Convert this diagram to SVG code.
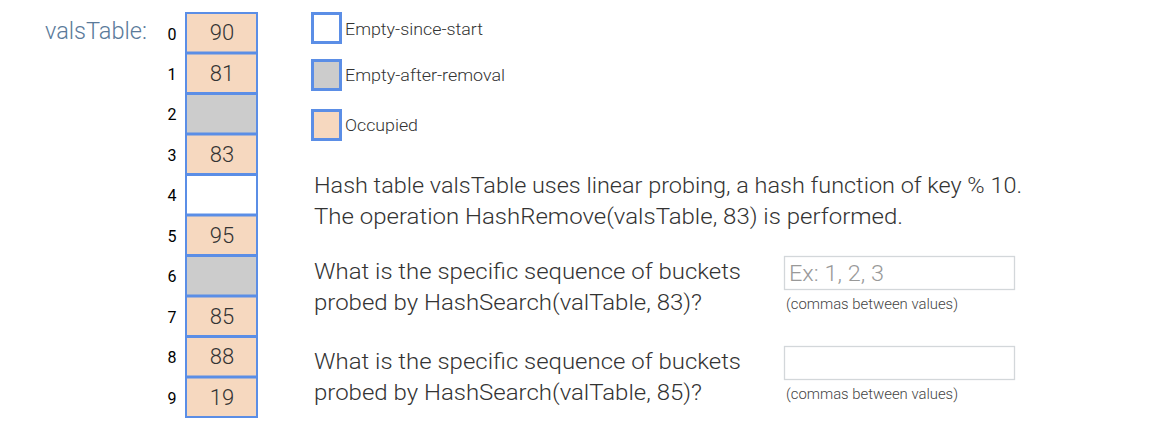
<svg xmlns="http://www.w3.org/2000/svg" width="1158" height="432" viewBox="0 0 1158 432">
<style>
.cell{stroke:#5b8ee6;stroke-width:2}
.occ{fill:#f6d8bf}
.rem{fill:#cccccc}
.emp{fill:#ffffff}
.idx{font-family:Roboto,"Liberation Sans",sans-serif;font-size:16px;fill:#000;text-anchor:middle}
.val{font-family:Roboto,"Liberation Sans",sans-serif;font-size:22px;fill:#333;text-anchor:middle;font-weight:300}
.leg{stroke:#5b8ee6;stroke-width:3}
.legt{font-family:Roboto,"Liberation Sans",sans-serif;font-size:17px;fill:#333;font-weight:300}
.main{font-family:Roboto,"Liberation Sans",sans-serif;font-size:22.5px;fill:#333;font-weight:300}
.box{fill:#fff;stroke:#d3d7da;stroke-width:1.3}
.ph{font-family:Roboto,"Liberation Sans",sans-serif;font-size:22px;fill:#999;font-weight:300}
.cap{font-family:Roboto,"Liberation Sans",sans-serif;font-size:14px;fill:#444;font-weight:300}
</style>
<text x="45" y="39" font-family="Roboto, 'Liberation Sans', sans-serif" font-size="23" font-weight="300" fill="#5a7a9a" textLength="102" lengthAdjust="spacingAndGlyphs">valsTable:</text>
<g id="table">
<g id="b0"><rect class="cell occ" x="186" y="13" width="71" height="39.5"/><text class="idx" x="172" y="40">0</text><text class="val" x="222" y="40">90</text></g>
<g id="b1"><rect class="cell occ" x="186" y="53.5" width="71" height="39.5"/><text class="idx" x="172" y="80">1</text><text class="val" x="222" y="80.5">81</text></g>
<g id="b2"><rect class="cell rem" x="186" y="94" width="71" height="39.5"/><text class="idx" x="172" y="120">2</text></g>
<g id="b3"><rect class="cell occ" x="186" y="134.5" width="71" height="39.5"/><text class="idx" x="172" y="161">3</text><text class="val" x="222" y="161.5">83</text></g>
<g id="b4"><rect class="cell emp" x="186" y="175" width="71" height="39.5"/><text class="idx" x="172" y="201">4</text></g>
<g id="b5"><rect class="cell occ" x="186" y="215.5" width="71" height="39.5"/><text class="idx" x="172" y="242">5</text><text class="val" x="222" y="242.5">95</text></g>
<g id="b6"><rect class="cell rem" x="186" y="256" width="71" height="39.5"/><text class="idx" x="172" y="282">6</text></g>
<g id="b7"><rect class="cell occ" x="186" y="296.5" width="71" height="39.5"/><text class="idx" x="172" y="323">7</text><text class="val" x="222" y="323.5">85</text></g>
<g id="b8"><rect class="cell occ" x="186" y="337" width="71" height="39.5"/><text class="idx" x="172" y="363">8</text><text class="val" x="222" y="364">88</text></g>
<g id="b9"><rect class="cell occ" x="186" y="377.5" width="71" height="39.5"/><text class="idx" x="172" y="404">9</text><text class="val" x="222" y="404.5">19</text></g>
</g>
<g id="legend">
<g id="leg1"><rect class="leg emp" x="312.5" y="13.5" width="28" height="29"/><text class="legt" x="345" y="35" textLength="138" lengthAdjust="spacingAndGlyphs">Empty-since-start</text></g>
<g id="leg2"><rect class="leg rem" x="312.5" y="60.5" width="28" height="29"/><text class="legt" x="345" y="81" textLength="160" lengthAdjust="spacingAndGlyphs">Empty-after-removal</text></g>
<g id="leg3"><rect class="leg occ" x="312.5" y="110.5" width="28" height="29"/><text class="legt" x="345" y="131" textLength="73" lengthAdjust="spacingAndGlyphs">Occupied</text></g>
</g>
<g id="connectors"/>
<text class="main" x="314" y="193" textLength="708" lengthAdjust="spacingAndGlyphs">Hash table valsTable uses linear probing, a hash function of key % 10.</text>
<text class="main" x="314" y="224" textLength="589" lengthAdjust="spacingAndGlyphs">The operation HashRemove(valsTable, 83) is performed.</text>
<g id="q1">
<text class="main" x="314" y="279" textLength="427" lengthAdjust="spacingAndGlyphs">What is the specific sequence of buckets</text>
<text class="main" x="314" y="310" textLength="388" lengthAdjust="spacingAndGlyphs">probed by HashSearch(valTable, 83)?</text>
<rect class="box" x="784.5" y="256.5" width="230" height="33"/>
<text class="ph" x="789" y="281" textLength="95" lengthAdjust="spacingAndGlyphs">Ex: 1, 2, 3</text>
<text class="cap" x="786" y="309" textLength="172" lengthAdjust="spacingAndGlyphs">(commas between values)</text>
</g>
<g id="q2">
<text class="main" x="314" y="369" textLength="427" lengthAdjust="spacingAndGlyphs">What is the specific sequence of buckets</text>
<text class="main" x="314" y="400" textLength="388" lengthAdjust="spacingAndGlyphs">probed by HashSearch(valTable, 85)?</text>
<rect class="box" x="784.5" y="346.5" width="230" height="33"/>
<text class="cap" x="786" y="399" textLength="172" lengthAdjust="spacingAndGlyphs">(commas between values)</text>
</g>
</svg>
